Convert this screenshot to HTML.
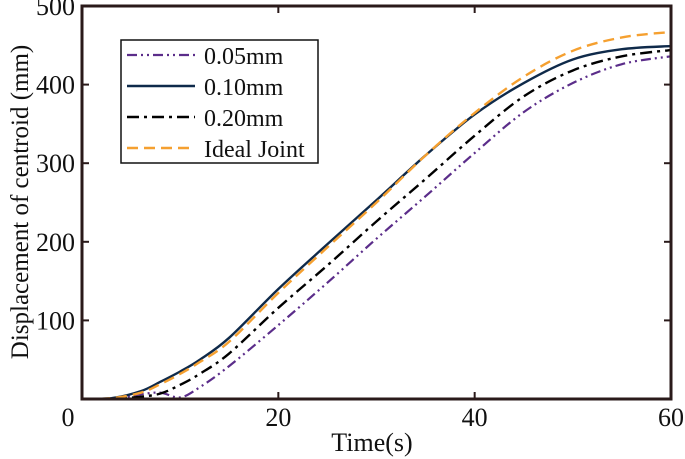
<!DOCTYPE html>
<html><head><meta charset="utf-8"><style>
html,body{margin:0;padding:0;background:#fff;}
svg{display:block;font-family:"Liberation Serif",serif;}
</style></head><body>
<svg id="chart" width="685" height="459" viewBox="0 0 685 459">
<g id="plot"></g>
<g id="axes"></g>
<text x="372" y="451" text-anchor="middle" font-size="26" fill="#111">Time(s)</text>
<text transform="translate(28,202) rotate(-90)" text-anchor="middle" font-size="25" fill="#111">Displacement of centroid (mm)</text>
<g>
<rect x="121" y="40" width="197" height="123" fill="#fff" stroke="#111" stroke-width="1.5"/>
<g id="legend-entries"></g>
</g>
</svg>
<script>
const times = [0,3,6,8,10,12,15,20,25,30,35,40,45,50,55,60];
const s005 = [0,0,6,8,2,15,42,94,148,204,258,313,365,402,426,436];
const s010 = [0,1,10,22,35,50,78,140,197,253,310,362,402,432,445,449];
const s020 = [0,0,3,7,18,32,58,116,170,226,280,335,385,418,436,444];
const sIdeal = [0,1,8,19,32,47,73,135,193,250,310,364,410,443,460,467];
const xTicks = [0,20,40,60];
const yTicks = [0,100,200,300,400,500];
const seriesNames = ["0.05mm","0.10mm","0.20mm","Ideal Joint"];

const X0=82,X1=671,Y0=399,Y1=6;
const xs = t => X0 + (t-0)/(60-0)*(X1-X0);
const ys = v => Y0 - (v-0)/(500-0)*(Y0-Y1);
const NS="http://www.w3.org/2000/svg";
function mk(tag,attrs,parent){const e=document.createElementNS(NS,tag);for(const k in attrs)e.setAttribute(k,attrs[k]);parent.appendChild(e);return e;}
function pathFor(vals){
  const p=times.map((t,i)=>[xs(t),ys(vals[i])]);
  let d="M"+p[0][0]+","+p[0][1];
  for(let i=0;i<p.length-1;i++){
    const a=p[Math.max(i-1,0)],b=p[i],c=p[i+1],e=p[Math.min(i+2,p.length-1)];
    const c1=[b[0]+(c[0]-a[0])/6,b[1]+(c[1]-a[1])/6];
    const c2=[c[0]-(e[0]-b[0])/6,c[1]-(e[1]-b[1])/6];
    d+=` C${c1[0]},${Math.min(c1[1],Y0)} ${c2[0]},${Math.min(c2[1],Y0)} ${c[0]},${c[1]}`;
  }
  return d;
}
const styles=[
 {data:s005,color:"#5b2d8a",dash:"10,4,2,4,2,4",w:2.2,name:"series-0-05mm"},
 {data:s010,color:"#0f2a4a",dash:"",w:2.4,name:"series-0-10mm"},
 {data:s020,color:"#000",dash:"12,5,3,5",w:2.4,name:"series-0-20mm"},
 {data:sIdeal,color:"#f5a030",dash:"11,6",w:2.4,name:"series-ideal-joint"}
];
const plot=document.getElementById("plot");
styles.forEach(s=>{
  const el=mk("path",{d:pathFor(s.data),fill:"none",stroke:s.color,"stroke-width":s.w,"stroke-dasharray":s.dash},plot);
  
  
});
const axes=document.getElementById("axes");
const frame=mk("rect",{x:X0,y:Y1,width:X1-X0,height:Y0-Y1,fill:"none",stroke:"#2a1a1a","stroke-width":3},axes);


xTicks.forEach(t=>{
  const x=xs(t);
  if(t>0&&t<60){mk("line",{x1:x,x2:x,y1:Y0,y2:Y0-7,stroke:"#2a1a1a","stroke-width":2},axes);mk("line",{x1:x,x2:x,y1:Y1,y2:Y1+7,stroke:"#2a1a1a","stroke-width":2},axes);}
  const tx=mk("text",{x:t===0?68:x,y:426,"text-anchor":"middle","font-size":26,fill:"#111"},axes);
  tx.textContent=t;
  
  
});
yTicks.forEach(v=>{
  const y=ys(v);
  if(v>0&&v<500){mk("line",{x1:X0,x2:X0+7,y1:y,y2:y,stroke:"#2a1a1a","stroke-width":2},axes);mk("line",{x1:X1,x2:X1-7,y1:y,y2:y,stroke:"#2a1a1a","stroke-width":2},axes);}
  if(v===0)return;
  const tx=mk("text",{x:75,y:y+9,"text-anchor":"end","font-size":26,fill:"#111"},axes);
  tx.textContent=v;
  
  
});
const leg=document.getElementById("legend-entries");
styles.forEach((s,i)=>{
  const y=55+i*31;
  const ln=mk("line",{x1:127,x2:195,y1:y,y2:y,stroke:s.color,"stroke-width":s.w,"stroke-dasharray":s.dash},leg);
  
  
  const tx=mk("text",{x:204,y:y+9,"font-size":24,fill:"#111"},leg);
  tx.textContent=seriesNames[i];
  
  
});
</script>
</body></html>
